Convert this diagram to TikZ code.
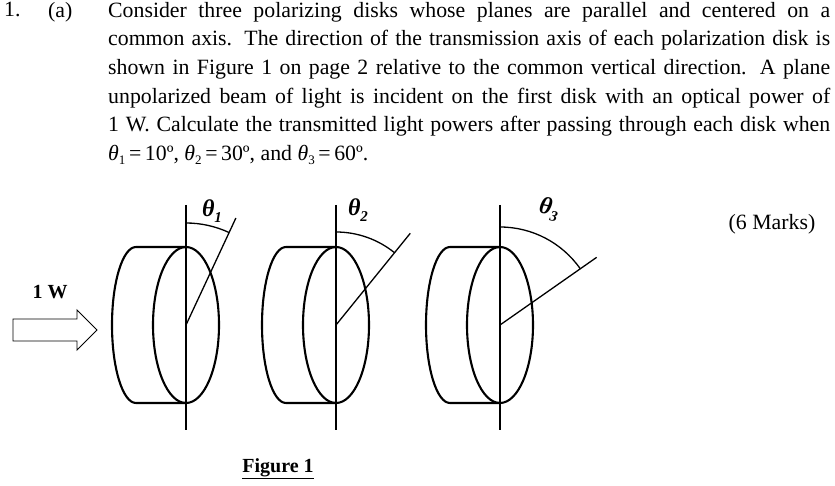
\documentclass[tikz,border=0pt]{standalone}
\usepackage{fontspec}
\setmainfont{Liberation Serif}
\usetikzlibrary{calc}
\newcommand{\thsub}[1]{\textit{θ}\raisebox{-0.2em}{\fontsize{13}{13}\selectfont #1}}
\begin{document}
\begin{tikzpicture}[x=1pt,y=-1pt,
  disk/.style={line width=2.1pt},
  thin/.style={line width=1.3pt},
  lbl/.style={font=\fontsize{24}{24}\selectfont\bfseries\itshape,inner sep=1pt}]
\useasboundingbox (0,0) rectangle (835,486);
\node[anchor=north west,inner sep=0pt,text width=722pt,align=justify,font=\fontsize{21.8}{28.6}\selectfont] (txt) at (108,2)
{Consider three polarizing disks whose planes are parallel and centered on a\linebreak common axis. The direction of the transmission axis of each polarization disk is\linebreak shown in Figure 1 on page 2 relative to the common vertical direction. A plane\linebreak unpolarized beam of light is incident on the first disk with an optical power of\linebreak 1 W. Calculate the transmitted light powers after passing through each disk when\linebreak \thsub{1}\,=\,10º, \thsub{2}\,=\,30º, and \thsub{3}\,=\,60º.};
\node[anchor=north west,inner sep=0pt,font=\fontsize{21.8}{28.6}\selectfont] (n1) at (4,2) {1.};
\node[anchor=north west,inner sep=0pt,font=\fontsize{21.8}{28.6}\selectfont] (na) at (48,2) {(a)};
\node[font=\fontsize{21.8}{20}\selectfont] (marks) at (772,224) {(6 Marks)};
\node[font=\fontsize{20}{20}\selectfont\bfseries] (w) at (50,292) {1 W};
\node[font=\fontsize{20}{20}\selectfont\bfseries] (fig) at (278,469) {\underline{Figure 1}};
\draw[line width=0.9pt] (13,319) -- (77,319) -- (77,310) -- (97,330) -- (77,350) -- (77,341) -- (13,341) -- cycle;
\foreach \cx/\ang/\rr/\i/\lx/\ly/\rot in {186/25/102/1/212/211/0, 336/39/93/2/358/210/0, 500/55/98/3/549/209/-12}{
  \coordinate (c\i) at (\cx,325);
  \draw[disk] (\cx,247) -- (\cx-50,247) arc[start angle=-90,end angle=-270,x radius=24,y radius=78] -- (\cx,403);
  \draw[disk] (c\i) ellipse[x radius=33,y radius=78];
  \draw[thin] (\cx,205) -- (\cx,430);
  \draw[thin] (c\i) -- ($(c\i)+({sin(\ang)*118},{-cos(\ang)*118})$) coordinate (d\i);
  \draw[thin] ($(c\i)+(0,-\rr)$) arc[start angle=-90,end angle={-90+\ang},radius=\rr];
  \node[lbl,rotate=\rot] (t\i) at (\lx,\ly) {θ\raisebox{-0.25em}{\fontsize{15}{15}\selectfont\i}};
}
\end{tikzpicture}
\end{document}
